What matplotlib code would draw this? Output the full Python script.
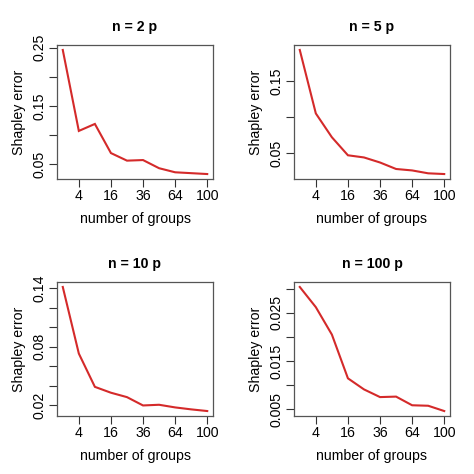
import numpy as np
import matplotlib
matplotlib.use("Agg")
import matplotlib.pyplot as plt

plt.rcParams['font.family'] = ['Liberation Sans', 'DejaVu Sans']

# number of groups (square grid sizes)
groups = [1, 4, 9, 16, 25, 36, 49, 64, 81, 100]
xtick_groups = [4, 16, 36, 64, 100]

titles = ["n = 2 p", "n = 5 p", "n = 10 p", "n = 100 p"]

err_2p = [0.246, 0.107, 0.119, 0.069, 0.056, 0.057, 0.043, 0.036, 0.0345, 0.033]
err_5p = [0.193, 0.105, 0.072, 0.047, 0.044, 0.037, 0.028, 0.026, 0.022, 0.021]
err_10p = [0.141, 0.073, 0.039, 0.033, 0.0285, 0.020, 0.0207, 0.018, 0.016, 0.0143]
err_100p = [0.0304, 0.0262, 0.0205, 0.0114, 0.0091, 0.0075, 0.0076, 0.0058, 0.0057, 0.0046]

series = [err_2p, err_5p, err_10p, err_100p]

# y ticks (all tick marks) and which ones get a label
yticks = [
    [0.05, 0.10, 0.15, 0.20, 0.25],
    [0.05, 0.10, 0.15],
    [0.02, 0.04, 0.06, 0.08, 0.10, 0.12, 0.14],
    [0.005, 0.010, 0.015, 0.020, 0.025, 0.030],
]
ylabels = [
    ["0.05", "", "0.15", "", "0.25"],
    ["0.05", "", "0.15"],
    ["0.02", "", "", "0.08", "", "", "0.14"],
    ["0.005", "", "0.015", "", "0.025", ""],
]

W = H = 474
fig = plt.figure(figsize=(4.74, 4.74), dpi=100)
fig.patch.set_facecolor('white')

# panel boxes in pixels: left, top
origins = [(57, 45), (294, 45), (57, 282), (294, 282)]
pw, ph = 156, 134

line_col = '#d42a2a'
box_col = '#555555'
fs = 10.2

for i, (ox, oy) in enumerate(origins):
    ax = fig.add_axes([ox / W, 1 - (oy + ph) / H, pw / W, ph / H])
    x = np.sqrt(groups)
    y = np.array(series[i])
    ax.plot(x, y, color=line_col, lw=1.5, solid_joinstyle='miter')

    # R-style 4% padding
    xr = x.max() - x.min()
    ax.set_xlim(x.min() - 0.04 * xr, x.max() + 0.04 * xr)
    yr = y.max() - y.min()
    ax.set_ylim(y.min() - 0.04 * yr, y.max() + 0.04 * yr)

    ax.set_xticks(np.sqrt(xtick_groups))
    ax.set_xticklabels([str(g) for g in xtick_groups], fontsize=fs)
    ax.set_yticks(yticks[i])
    ax.set_yticklabels(ylabels[i], fontsize=fs, rotation=90, va='center')

    ax.tick_params(direction='out', length=5.5, width=0.8, color='#333333',
                   labelcolor='black', pad=2)
    for s in ax.spines.values():
        s.set_color(box_col)
        s.set_linewidth(0.9)

    ax.set_xlabel("number of groups", fontsize=fs, labelpad=6)
    ax.set_ylabel("Shapley error", fontsize=fs, labelpad=5)
    ax.set_title(titles[i], fontsize=fs, fontweight='bold', pad=10)

fig.savefig("out.png", dpi=100, facecolor='white')
